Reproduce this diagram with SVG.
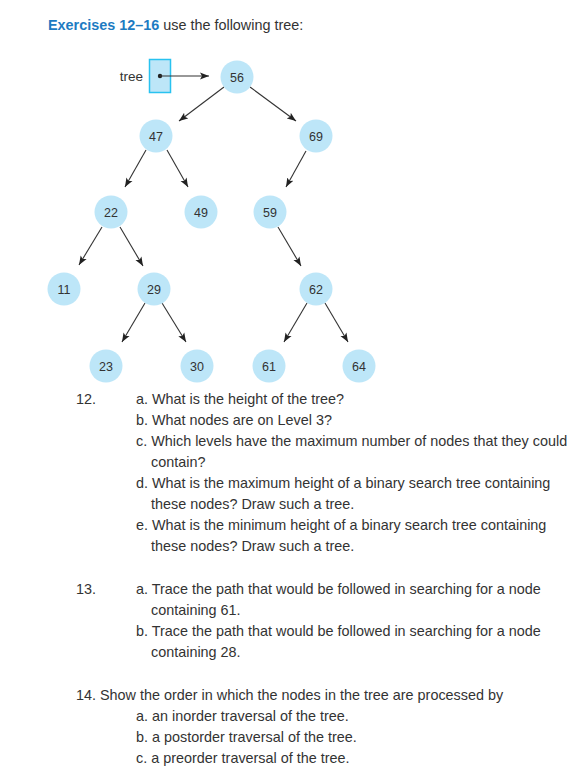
<svg xmlns="http://www.w3.org/2000/svg" width="588" height="775" viewBox="0 0 588 775">
<style>
.t{font-family:"Liberation Sans",Arial,sans-serif;font-size:14.4px;fill:#333}
.h{font-family:"Liberation Sans",Arial,sans-serif;font-size:14.4px;fill:#333}
.hb{font-weight:bold;fill:#1d7bc2}
.n circle{fill:#bde6f8}
.n text{font-family:"Liberation Sans",Arial,sans-serif;font-size:12.5px;fill:#333;text-anchor:middle}
.e line{stroke:#333;stroke-width:1.1;marker-end:url(#ah)}
</style>
<defs>
<marker id="ah" markerWidth="10" markerHeight="8" refX="9" refY="4" orient="auto" markerUnits="userSpaceOnUse">
<path d="M0,0.5 L9,4 L0,7.5 L2,4 Z" fill="#222"/>
</marker>
</defs>
<rect width="588" height="775" fill="#fff"/>
<text class="h" x="48" y="30"><tspan class="hb">Exercises 12–16</tspan> use the following tree:</text>

<g id="treeptr">
<text x="143" y="81" font-family="Liberation Sans,Arial,sans-serif" font-size="13.5" fill="#333" text-anchor="end">tree</text>
<rect x="149.5" y="59.5" width="21" height="33" fill="#bde6f8" stroke="#29c2f0" stroke-width="1.5"/>
<circle cx="160" cy="76" r="2.2" fill="#222"/>
</g>

<g class="e" id="connectors">
<line x1="160" y1="76" x2="209" y2="76"/>
<line x1="224" y1="87" x2="179" y2="121"/>
<line x1="250" y1="87" x2="296" y2="121"/>
<line x1="146" y1="150" x2="125" y2="187"/>
<line x1="167" y1="150" x2="188" y2="187"/>
<line x1="306" y1="151" x2="286" y2="187"/>
<line x1="102" y1="227" x2="79" y2="265"/>
<line x1="120" y1="227" x2="143" y2="266"/>
<line x1="278" y1="227" x2="301" y2="266"/>
<line x1="145" y1="303" x2="122" y2="342"/>
<line x1="162" y1="303" x2="186" y2="342"/>
<line x1="307" y1="303" x2="284" y2="342"/>
<line x1="325" y1="303" x2="348" y2="342"/>
</g>

<g class="n" id="n56"><circle cx="237" cy="77" r="16.5"/><text x="237" y="81.5">56</text></g>
<g class="n" id="n47"><circle cx="156" cy="136" r="16.5"/><text x="156" y="140.5">47</text></g>
<g class="n" id="n69"><circle cx="316" cy="136" r="16.5"/><text x="316" y="140.5">69</text></g>
<g class="n" id="n22"><circle cx="111" cy="212" r="16.5"/><text x="111" y="216.5">22</text></g>
<g class="n" id="n49"><circle cx="201" cy="212" r="16.5"/><text x="201" y="216.5">49</text></g>
<g class="n" id="n59"><circle cx="270" cy="212" r="16.5"/><text x="270" y="216.5">59</text></g>
<g class="n" id="n11"><circle cx="64" cy="289" r="16.5"/><text x="64" y="293.5">11</text></g>
<g class="n" id="n29"><circle cx="154" cy="289" r="16.5"/><text x="154" y="293.5">29</text></g>
<g class="n" id="n62"><circle cx="316" cy="289" r="16.5"/><text x="316" y="293.5">62</text></g>
<g class="n" id="n23"><circle cx="106" cy="366" r="16.5"/><text x="106" y="370.5">23</text></g>
<g class="n" id="n30"><circle cx="197" cy="366" r="16.5"/><text x="197" y="370.5">30</text></g>
<g class="n" id="n61"><circle cx="269" cy="366" r="16.5"/><text x="269" y="370.5">61</text></g>
<g class="n" id="n64"><circle cx="359" cy="366" r="16.5"/><text x="359" y="370.5">64</text></g>

<g id="q12">
<text class="t" x="76" y="404">12.</text>
<text class="t" x="136" y="404">a. What is the height of the tree?</text>
<text class="t" x="136" y="425">b. What nodes are on Level 3?</text>
<text class="t" x="136" y="446">c. Which levels have the maximum number of nodes that they could</text>
<text class="t" x="151" y="467">contain?</text>
<text class="t" x="136" y="488">d. What is the maximum height of a binary search tree containing</text>
<text class="t" x="151" y="509">these nodes? Draw such a tree.</text>
<text class="t" x="136" y="530">e. What is the minimum height of a binary search tree containing</text>
<text class="t" x="151" y="551">these nodes? Draw such a tree.</text>
</g>
<g id="q13">
<text class="t" x="76" y="594">13.</text>
<text class="t" x="136" y="594">a. Trace the path that would be followed in searching for a node</text>
<text class="t" x="151" y="615">containing 61.</text>
<text class="t" x="136" y="636">b. Trace the path that would be followed in searching for a node</text>
<text class="t" x="151" y="657">containing 28.</text>
</g>
<g id="q14">
<text class="t" x="76" y="700">14. Show the order in which the nodes in the tree are processed by</text>
<text class="t" x="136" y="721">a. an inorder traversal of the tree.</text>
<text class="t" x="136" y="742">b. a postorder traversal of the tree.</text>
<text class="t" x="136" y="763">c. a preorder traversal of the tree.</text>
</g>
</svg>
